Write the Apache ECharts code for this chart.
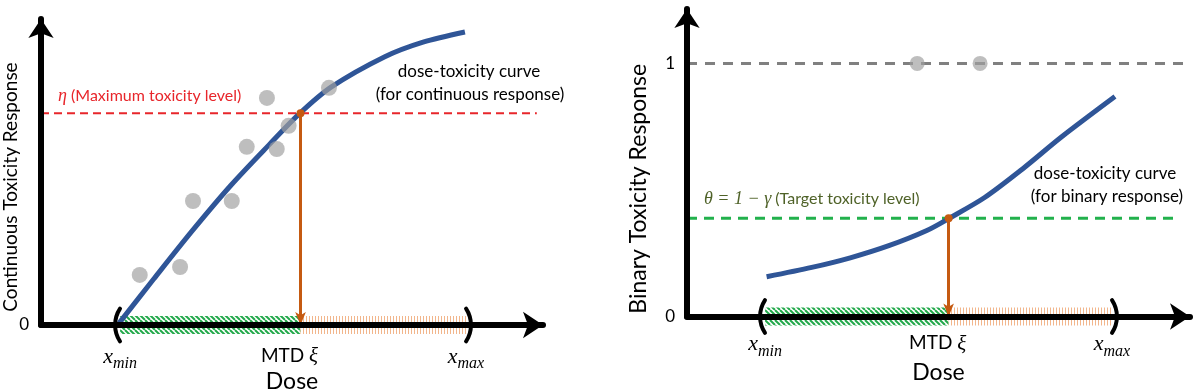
<!DOCTYPE html>
<html>
<head>
<meta charset="utf-8">
<title>Dose-toxicity curves</title>
<script src="https://cdn.jsdelivr.net/npm/echarts@6.0.0/dist/echarts.min.js"></script>
<style>
    html, body { margin: 0; padding: 0; background: #fff; }
    #chart { width: 1200px; height: 391px; }
</style>
</head>
<body>
<div id="chart"></div>
<script>
// left panel: continuous response
var contCurveX = [15.1, 21.8, 29.2, 36.7, 44.1, 50.1, 56.1, 66.5, 73.9, 82.0];
var contCurveY = [0.6, 14.5, 29.6, 44.0, 56.8, 66.8, 75.0, 84.6, 89.2, 92.4];
var contPointsX = [19.1, 26.9, 29.4, 36.9, 39.8, 43.7, 45.6, 47.9, 55.7];
var contPointsY = [15.8, 18.3, 39.1, 39.1, 56.2, 71.6, 55.5, 62.8, 74.8];
var contEta = 66.8;
var contEtaEnd = 95.9;
var contDoses = [15.3, 50.2, 82.2];   // x_min, MTD, x_max
var contYTicks = [0];

// right panel: binary response
var binCurveX = [15.7, 24.6, 32.2, 39.8, 47.3, 51.7, 58.7, 66.3, 73.9, 84.4];
var binCurveY = [0.157, 0.194, 0.232, 0.280, 0.340, 0.388, 0.470, 0.585, 0.710, 0.869];
var binPointsX = [45.4, 57.8];
var binPointsY = [1, 1];
var binTheta = 0.388;
var binThetaEnd = 97.2;
var binOneEnd = 98.2;
var binDoses = [15.4, 51.6, 83.8];
var binYTicks = [0, 1];

var doseTickLabels = ['{x|x}{s|min}', '{t|MTD }{g|ξ}', '{x|x}{s|max}'];

var FONT = 'Lato';
var MATH = 'Liberation Serif';

function zip(xs, ys) {
    var out = [];
    for (var i = 0; i < xs.length; i++) {
        out.push([xs[i], ys[i]]);
    }
    return out;
}

function makePattern(kind) {
    var c = document.createElement('canvas');
    var ctx = c.getContext('2d');
    if (kind === 'diag') {
        c.width = 5; c.height = 5;
        ctx.strokeStyle = '#22a84a';
        ctx.lineWidth = 2;
        for (var i = -1; i <= 1; i++) {
            ctx.beginPath();
            ctx.moveTo(i * 5, 0);
            ctx.lineTo(i * 5 + 5, 5);
            ctx.stroke();
        }
    } else {
        c.width = 3; c.height = 6;
        ctx.fillStyle = '#f2b68c';
        ctx.fillRect(0, 0, 1, 6);
    }
    return { image: c, repeat: 'repeat' };
}
var greenHatch = makePattern('diag');
var orangeHatch = makePattern('vert');

function doseLabel(doses) {
    return function (v) {
        for (var i = 0; i < doses.length; i++) {
            if (Math.abs(v - doses[i]) < 1e-6) return doseTickLabels[i];
        }
        return '';
    };
}

var tickRich = {
    x: { fontFamily: MATH, fontStyle: 'italic', fontSize: 22, color: '#000', verticalAlign: 'top', lineHeight: 22 },
    s: { fontFamily: MATH, fontStyle: 'italic', fontSize: 16, color: '#000', verticalAlign: 'top', padding: [10, 0, 0, 0], lineHeight: 16 },
    t: { fontFamily: FONT, fontSize: 19, color: '#000', verticalAlign: 'top', lineHeight: 22 },
    g: { fontFamily: MATH, fontStyle: 'italic', fontSize: 21, color: '#000', verticalAlign: 'top', lineHeight: 22, padding: [0, 22, 0, 0] }
};

function xAxisFor(gridIndex, max, doses, margin, gap) {
    return {
        gridIndex: gridIndex, type: 'value', min: 0, max: max, z: 5,
        axisLine: { show: true, symbol: ['none', 'arrow'], symbolSize: [20, 20], lineStyle: { color: '#000', width: 6 } },
        axisTick: { show: false },
        splitLine: { show: false },
        axisLabel: { customValues: doses, formatter: doseLabel(doses), margin: margin, rich: tickRich },
        name: 'Dose', nameLocation: 'middle', nameGap: gap, nameMoveOverlap: false,
        nameTextStyle: { fontFamily: FONT, fontSize: 23, color: '#000' }
    };
}

function yAxisFor(gridIndex, max, ticks, title, titleSize, gap, shift) {
    return {
        gridIndex: gridIndex, type: 'value', min: 0, max: max, z: 5,
        axisLine: { show: true, symbol: ['none', 'arrow'], symbolSize: [19, 19], lineStyle: { color: '#000', width: 6 } },
        axisTick: { show: false },
        splitLine: { show: false },
        axisLabel: { customValues: ticks, margin: 12, fontFamily: FONT, fontSize: 17, color: '#000' },
        name: title, nameLocation: 'middle', nameGap: gap, nameMoveOverlap: false,
        nameTextStyle: { fontFamily: FONT, fontSize: titleSize, color: '#000', padding: [0, shift, 0, 0] }
    };
}

// hatched dose band drawn under the axis line
function bandSeries(axisIndex, doses) {
    return {
        type: 'custom', xAxisIndex: axisIndex, yAxisIndex: axisIndex, z: 1, clip: false, silent: true,
        data: [[doses[0], doses[1], 0], [doses[1], doses[2], 1]],
        renderItem: function (params, api) {
            var a = api.coord([api.value(0), 0]);
            var b = api.coord([api.value(1), 0]);
            return {
                type: 'rect',
                shape: { x: a[0], y: a[1] - 9, width: b[0] - a[0], height: 18 },
                style: { fill: api.value(2) === 0 ? greenHatch : orangeHatch }
            };
        }
    };
}

// parentheses around [x_min, x_max]
function bracketSeries(axisIndex, doses) {
    return {
        type: 'custom', xAxisIndex: axisIndex, yAxisIndex: axisIndex, z: 6, clip: false, silent: true,
        data: [[doses[0], -1], [doses[2], 1]],
        renderItem: function (params, api) {
            var p = api.coord([api.value(0), 0]);
            var dir = api.value(1);
            var r = 30;
            var cx = p[0] - dir * (r - 5);
            var mid = dir < 0 ? Math.PI : 0;
            return {
                type: 'arc',
                shape: { cx: cx, cy: p[1], r: r, startAngle: mid - 0.58, endAngle: mid + 0.58 },
                style: { stroke: '#000', lineWidth: 4, fill: null, lineCap: 'round' }
            };
        }
    };
}

function dashed(axisIndex, xs, y, color, width, dash) {
    return {
        type: 'line', xAxisIndex: axisIndex, yAxisIndex: axisIndex, symbol: 'none', silent: true, z: 2,
        data: [[xs[0], y], [xs[1], y]],
        lineStyle: { color: color, width: width, type: dash }
    };
}

function mtdArrow(axisIndex, x, y) {
    return {
        type: 'line', xAxisIndex: axisIndex, yAxisIndex: axisIndex, symbol: 'none', silent: true, z: 4, data: [],
        markLine: {
            silent: true, symbol: ['circle', 'arrow'], symbolSize: [8, 13], label: { show: false },
            lineStyle: { color: '#c55a11', width: 3, type: 'solid' },
            data: [[{ coord: [x, y] }, { coord: [x, 0] }]]
        }
    };
}

function curve(axisIndex, xs, ys) {
    return {
        type: 'line', xAxisIndex: axisIndex, yAxisIndex: axisIndex, smooth: 0.3,
        symbol: 'none', z: 3, silent: true,
        data: zip(xs, ys),
        lineStyle: { color: '#2f5597', width: 5 }
    };
}

function dots(axisIndex, xs, ys, size) {
    return {
        type: 'scatter', xAxisIndex: axisIndex, yAxisIndex: axisIndex, symbolSize: size, z: 3.5, silent: true,
        data: zip(xs, ys),
        itemStyle: { color: 'rgba(160,160,160,0.85)' }
    };
}

var chartDom = echarts.init(document.getElementById('chart'));
var option = {
    animation: false,
    backgroundColor: '#fff',
    grid: [
        { left: 41, top: 19, width: 502, bottom: 66, outerBoundsMode: 'none', containLabel: false },
        { left: 687, top: 9, width: 503, bottom: 74.5, outerBoundsMode: 'none', containLabel: false }
    ],
    xAxis: [
        xAxisFor(0, 97.1, contDoses, 21, 45),
        xAxisFor(1, 99.2, binDoses, 17, 45)
    ],
    yAxis: [
        yAxisFor(0, 96.5, contYTicks, 'Continuous Toxicity Response', 19, 21, 30),
        yAxisFor(1, 1.215, binYTicks, 'Binary Toxicity Response', 23, 37, 52)
    ],
    graphic: [
        { type: 'text', x: 58, y: 96, style: { text: '{g|η} (Maximum toxicity level)', font: '16px ' + FONT, fill: '#e8262b', verticalAlign: 'middle',
            rich: { g: { fontFamily: MATH, fontStyle: 'italic', fontSize: 18, fill: '#e8262b' } } } },
        { type: 'text', x: 469, y: 72, style: { text: 'dose-toxicity curve', font: '17px ' + FONT, fill: '#000', align: 'center', verticalAlign: 'middle' } },
        { type: 'text', x: 470, y: 95, style: { text: '(for continuous response)', font: '17px ' + FONT, fill: '#000', align: 'center', verticalAlign: 'middle' } },
        { type: 'text', x: 704, y: 199, style: { text: '{g|θ = 1 − γ} (Target toxicity level)', font: '16px ' + FONT, fill: '#4f6228', verticalAlign: 'middle',
            rich: { g: { fontFamily: MATH, fontStyle: 'italic', fontSize: 18, fill: '#4f6228' } } } },
        { type: 'text', x: 1105, y: 174, style: { text: 'dose-toxicity curve', font: '17px ' + FONT, fill: '#000', align: 'center', verticalAlign: 'middle' } },
        { type: 'text', x: 1107, y: 197, style: { text: '(for binary response)', font: '17px ' + FONT, fill: '#000', align: 'center', verticalAlign: 'middle' } }
    ],
    series: [
        bandSeries(0, contDoses),
        bracketSeries(0, contDoses),
        dashed(0, [0, contEtaEnd], contEta, '#e8262b', 2, [8, 5]),
        mtdArrow(0, contDoses[1], contEta),
        curve(0, contCurveX, contCurveY),
        dots(0, contPointsX, contPointsY, 16),

        bandSeries(1, binDoses),
        bracketSeries(1, binDoses),
        dashed(1, [0, binOneEnd], 1, '#808080', 3, [10, 8]),
        dashed(1, [0, binThetaEnd], binTheta, '#22b14c', 3, [10, 7]),
        mtdArrow(1, binDoses[1], binTheta),
        curve(1, binCurveX, binCurveY),
        dots(1, binPointsX, binPointsY, 15)
    ]
};
chartDom.setOption(option);
window.onresize = function () {
    chartDom.resize();
};
</script>
</body>
</html>
